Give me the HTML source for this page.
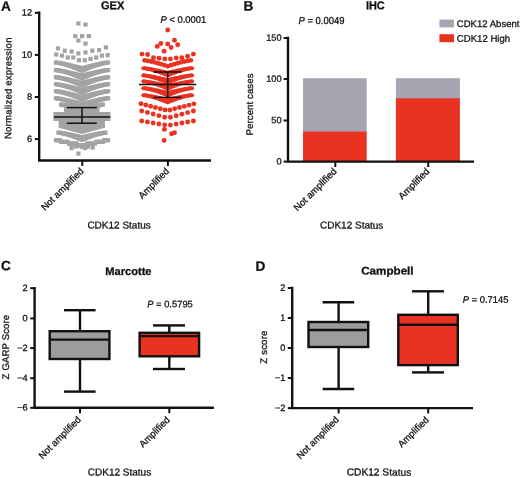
<!DOCTYPE html>
<html lang="en"><head><meta charset="utf-8"><title>CDK12 Status figure</title>
<style>
html,body{margin:0;padding:0;background:#fff;}
body{width:520px;height:477px;overflow:hidden;}
svg{display:block;font-family:"Liberation Sans",sans-serif;}
text{fill:#111;stroke:#111;stroke-width:0.28px;}
</style></head><body>
<svg width="520" height="477" viewBox="0 0 520 477">
<rect width="520" height="477" fill="#fff"/>
<g id="panelA">
<text x="1" y="10.8" font-size="13.6" font-weight="bold" transform="rotate(0.04 1 10.8)">A</text>
<text x="112.6" y="9.2" font-size="11.4" text-anchor="middle" font-weight="bold" transform="rotate(0.04 112.6 9.2)" textLength="23.4" lengthAdjust="spacingAndGlyphs">GEX</text>
<text x="160.6" y="22.8" font-size="9.4" transform="rotate(0.04 160.6 22.8)"><tspan font-style="italic">P</tspan> &lt; 0.0001</text>
<text x="11.4" y="88.3" font-size="9.5" text-anchor="middle" transform="rotate(-89.96 11.4 88.3)" textLength="101.5">Normalized expression</text>
<g fill="#a3a3a3">
<path d="M64 106.6H99.5V112H110.4V121H105V127.7L82 134 58.6 127.7V121H53.4V112H64Z"/>
<rect x="76.3" y="21.3" width="4.2" height="4.2"/>
<rect x="83.4" y="22.4" width="4.2" height="4.2"/>
<rect x="73.1" y="34" width="4.2" height="4.2"/>
<rect x="80" y="34" width="4.2" height="4.2"/>
<rect x="86.8" y="34" width="4.2" height="4.2"/>
<rect x="76.3" y="38.5" width="4.2" height="4.2"/>
<rect x="83.4" y="41.5" width="4.2" height="4.2"/>
<rect x="55.9" y="46.3" width="4.2" height="4.2"/>
<rect x="62.7" y="48.6" width="4.2" height="4.2"/>
<rect x="69.5" y="49.4" width="4.2" height="4.2"/>
<rect x="76.3" y="51.3" width="4.2" height="4.2"/>
<rect x="83.4" y="50.4" width="4.2" height="4.2"/>
<rect x="90.2" y="48.6" width="4.2" height="4.2"/>
<rect x="97" y="48" width="4.2" height="4.2"/>
<rect x="103.8" y="45.3" width="4.2" height="4.2"/>
<rect x="54.1" y="52.4" width="4.2" height="4.2"/>
<rect x="59.9" y="53.5" width="4.2" height="4.2"/>
<rect x="65.7" y="55.4" width="4.2" height="4.2"/>
<rect x="71.2" y="55.4" width="4.2" height="4.2"/>
<rect x="76.9" y="58.1" width="4.2" height="4.2"/>
<rect x="82.7" y="58.1" width="4.2" height="4.2"/>
<rect x="88.4" y="56.8" width="4.2" height="4.2"/>
<rect x="94.1" y="55.4" width="4.2" height="4.2"/>
<rect x="99.9" y="53.5" width="4.2" height="4.2"/>
<rect x="105.6" y="53.1" width="4.2" height="4.2"/>
<rect x="53.9" y="138.1" width="4.2" height="4.2"/>
<rect x="55.2" y="138.1" width="4.2" height="4.2"/>
<rect x="56.5" y="138.1" width="4.2" height="4.2"/>
<rect x="57.8" y="138.1" width="4.2" height="4.2"/>
<rect x="59.1" y="139.8" width="4.2" height="4.2"/>
<rect x="60.4" y="139.8" width="4.2" height="4.2"/>
<rect x="61.7" y="139.8" width="4.2" height="4.2"/>
<rect x="63" y="139.8" width="4.2" height="4.2"/>
<rect x="64.3" y="139.8" width="4.2" height="4.2"/>
<rect x="65.6" y="139.8" width="4.2" height="4.2"/>
<rect x="66.9" y="141.5" width="4.2" height="4.2"/>
<rect x="68.2" y="141.5" width="4.2" height="4.2"/>
<rect x="69.5" y="141.5" width="4.2" height="4.2"/>
<rect x="70.8" y="141.5" width="4.2" height="4.2"/>
<rect x="72.1" y="141.5" width="4.2" height="4.2"/>
<rect x="73.4" y="141.5" width="4.2" height="4.2"/>
<rect x="74.7" y="141.5" width="4.2" height="4.2"/>
<rect x="76" y="143.2" width="4.2" height="4.2"/>
<rect x="77.3" y="143.2" width="4.2" height="4.2"/>
<rect x="78.6" y="143.2" width="4.2" height="4.2"/>
<rect x="79.9" y="143.2" width="4.2" height="4.2"/>
<rect x="81.2" y="143.2" width="4.2" height="4.2"/>
<rect x="82.5" y="143.2" width="4.2" height="4.2"/>
<rect x="83.8" y="143.2" width="4.2" height="4.2"/>
<rect x="85.1" y="141.5" width="4.2" height="4.2"/>
<rect x="86.4" y="141.5" width="4.2" height="4.2"/>
<rect x="87.7" y="141.5" width="4.2" height="4.2"/>
<rect x="89" y="141.5" width="4.2" height="4.2"/>
<rect x="90.3" y="141.5" width="4.2" height="4.2"/>
<rect x="91.6" y="141.5" width="4.2" height="4.2"/>
<rect x="92.9" y="141.5" width="4.2" height="4.2"/>
<rect x="94.2" y="139.8" width="4.2" height="4.2"/>
<rect x="95.5" y="139.8" width="4.2" height="4.2"/>
<rect x="96.8" y="139.8" width="4.2" height="4.2"/>
<rect x="98.1" y="139.8" width="4.2" height="4.2"/>
<rect x="99.4" y="139.8" width="4.2" height="4.2"/>
<rect x="100.7" y="139.8" width="4.2" height="4.2"/>
<rect x="102" y="138.1" width="4.2" height="4.2"/>
<rect x="103.3" y="138.1" width="4.2" height="4.2"/>
<rect x="104.6" y="138.1" width="4.2" height="4.2"/>
<rect x="105.9" y="138.1" width="4.2" height="4.2"/>
<rect x="69.5" y="146" width="4.2" height="4.2"/>
<rect x="83.1" y="146" width="4.2" height="4.2"/>
<rect x="90.6" y="145.4" width="4.2" height="4.2"/>
<rect x="76.3" y="151.5" width="4.2" height="4.2"/>
<rect x="73.9" y="144.4" width="4.2" height="4.2"/>
<rect x="85.9" y="144.4" width="4.2" height="4.2"/>
<rect x="79.9" y="144.9" width="4.2" height="4.2"/>
<rect x="53.8" y="60.47" width="4.4" height="4.1"/>
<rect x="55.1" y="60.62" width="4.4" height="4.1"/>
<rect x="56.4" y="60.82" width="4.4" height="4.11"/>
<rect x="57.7" y="61.04" width="4.4" height="4.12"/>
<rect x="59" y="61.29" width="4.4" height="4.14"/>
<rect x="60.3" y="61.56" width="4.4" height="4.17"/>
<rect x="61.6" y="61.84" width="4.4" height="4.21"/>
<rect x="62.9" y="62.13" width="4.4" height="4.27"/>
<rect x="64.2" y="62.43" width="4.4" height="4.33"/>
<rect x="65.5" y="62.73" width="4.4" height="4.42"/>
<rect x="66.8" y="63.05" width="4.4" height="4.51"/>
<rect x="68.1" y="63.36" width="4.4" height="4.62"/>
<rect x="69.4" y="63.68" width="4.4" height="4.75"/>
<rect x="70.7" y="64.01" width="4.4" height="4.9"/>
<rect x="72" y="64.33" width="4.4" height="5.07"/>
<rect x="73.3" y="64.65" width="4.4" height="5.25"/>
<rect x="74.6" y="64.98" width="4.4" height="5.46"/>
<rect x="75.9" y="65.3" width="4.4" height="5.68"/>
<rect x="77.2" y="65.62" width="4.4" height="5.93"/>
<rect x="78.5" y="65.94" width="4.4" height="6.2"/>
<rect x="79.8" y="66.25" width="4.4" height="6.5"/>
<rect x="81.1" y="65.94" width="4.4" height="6.2"/>
<rect x="82.4" y="65.62" width="4.4" height="5.93"/>
<rect x="83.7" y="65.3" width="4.4" height="5.68"/>
<rect x="85" y="64.98" width="4.4" height="5.46"/>
<rect x="86.3" y="64.65" width="4.4" height="5.25"/>
<rect x="87.6" y="64.33" width="4.4" height="5.07"/>
<rect x="88.9" y="64.01" width="4.4" height="4.9"/>
<rect x="90.2" y="63.68" width="4.4" height="4.75"/>
<rect x="91.5" y="63.36" width="4.4" height="4.62"/>
<rect x="92.8" y="63.05" width="4.4" height="4.51"/>
<rect x="94.1" y="62.73" width="4.4" height="4.42"/>
<rect x="95.4" y="62.43" width="4.4" height="4.33"/>
<rect x="96.7" y="62.13" width="4.4" height="4.27"/>
<rect x="98" y="61.84" width="4.4" height="4.21"/>
<rect x="99.3" y="61.56" width="4.4" height="4.17"/>
<rect x="100.6" y="61.29" width="4.4" height="4.14"/>
<rect x="101.9" y="61.04" width="4.4" height="4.12"/>
<rect x="103.2" y="60.82" width="4.4" height="4.11"/>
<rect x="104.5" y="60.62" width="4.4" height="4.1"/>
<rect x="105.8" y="60.47" width="4.4" height="4.1"/>
<rect x="53.8" y="67.97" width="4.4" height="4.1"/>
<rect x="55.1" y="68.12" width="4.4" height="4.1"/>
<rect x="56.4" y="68.32" width="4.4" height="4.11"/>
<rect x="57.7" y="68.54" width="4.4" height="4.12"/>
<rect x="59" y="68.79" width="4.4" height="4.14"/>
<rect x="60.3" y="69.06" width="4.4" height="4.17"/>
<rect x="61.6" y="69.34" width="4.4" height="4.21"/>
<rect x="62.9" y="69.63" width="4.4" height="4.27"/>
<rect x="64.2" y="69.93" width="4.4" height="4.33"/>
<rect x="65.5" y="70.23" width="4.4" height="4.42"/>
<rect x="66.8" y="70.55" width="4.4" height="4.51"/>
<rect x="68.1" y="70.86" width="4.4" height="4.62"/>
<rect x="69.4" y="71.18" width="4.4" height="4.75"/>
<rect x="70.7" y="71.51" width="4.4" height="4.9"/>
<rect x="72" y="71.83" width="4.4" height="5.07"/>
<rect x="73.3" y="72.15" width="4.4" height="5.25"/>
<rect x="74.6" y="72.48" width="4.4" height="5.46"/>
<rect x="75.9" y="72.8" width="4.4" height="5.68"/>
<rect x="77.2" y="73.12" width="4.4" height="5.93"/>
<rect x="78.5" y="73.44" width="4.4" height="6.2"/>
<rect x="79.8" y="73.75" width="4.4" height="6.5"/>
<rect x="81.1" y="73.44" width="4.4" height="6.2"/>
<rect x="82.4" y="73.12" width="4.4" height="5.93"/>
<rect x="83.7" y="72.8" width="4.4" height="5.68"/>
<rect x="85" y="72.48" width="4.4" height="5.46"/>
<rect x="86.3" y="72.15" width="4.4" height="5.25"/>
<rect x="87.6" y="71.83" width="4.4" height="5.07"/>
<rect x="88.9" y="71.51" width="4.4" height="4.9"/>
<rect x="90.2" y="71.18" width="4.4" height="4.75"/>
<rect x="91.5" y="70.86" width="4.4" height="4.62"/>
<rect x="92.8" y="70.55" width="4.4" height="4.51"/>
<rect x="94.1" y="70.23" width="4.4" height="4.42"/>
<rect x="95.4" y="69.93" width="4.4" height="4.33"/>
<rect x="96.7" y="69.63" width="4.4" height="4.27"/>
<rect x="98" y="69.34" width="4.4" height="4.21"/>
<rect x="99.3" y="69.06" width="4.4" height="4.17"/>
<rect x="100.6" y="68.79" width="4.4" height="4.14"/>
<rect x="101.9" y="68.54" width="4.4" height="4.12"/>
<rect x="103.2" y="68.32" width="4.4" height="4.11"/>
<rect x="104.5" y="68.12" width="4.4" height="4.1"/>
<rect x="105.8" y="67.97" width="4.4" height="4.1"/>
<rect x="53.8" y="75.17" width="4.4" height="4.1"/>
<rect x="55.1" y="75.32" width="4.4" height="4.1"/>
<rect x="56.4" y="75.52" width="4.4" height="4.11"/>
<rect x="57.7" y="75.74" width="4.4" height="4.12"/>
<rect x="59" y="75.99" width="4.4" height="4.14"/>
<rect x="60.3" y="76.26" width="4.4" height="4.17"/>
<rect x="61.6" y="76.54" width="4.4" height="4.21"/>
<rect x="62.9" y="76.83" width="4.4" height="4.27"/>
<rect x="64.2" y="77.13" width="4.4" height="4.33"/>
<rect x="65.5" y="77.43" width="4.4" height="4.42"/>
<rect x="66.8" y="77.75" width="4.4" height="4.51"/>
<rect x="68.1" y="78.06" width="4.4" height="4.62"/>
<rect x="69.4" y="78.38" width="4.4" height="4.75"/>
<rect x="70.7" y="78.71" width="4.4" height="4.9"/>
<rect x="72" y="79.03" width="4.4" height="5.07"/>
<rect x="73.3" y="79.35" width="4.4" height="5.25"/>
<rect x="74.6" y="79.68" width="4.4" height="5.46"/>
<rect x="75.9" y="80" width="4.4" height="5.68"/>
<rect x="77.2" y="80.32" width="4.4" height="5.93"/>
<rect x="78.5" y="80.64" width="4.4" height="6.2"/>
<rect x="79.8" y="80.95" width="4.4" height="6.5"/>
<rect x="81.1" y="80.64" width="4.4" height="6.2"/>
<rect x="82.4" y="80.32" width="4.4" height="5.93"/>
<rect x="83.7" y="80" width="4.4" height="5.68"/>
<rect x="85" y="79.68" width="4.4" height="5.46"/>
<rect x="86.3" y="79.35" width="4.4" height="5.25"/>
<rect x="87.6" y="79.03" width="4.4" height="5.07"/>
<rect x="88.9" y="78.71" width="4.4" height="4.9"/>
<rect x="90.2" y="78.38" width="4.4" height="4.75"/>
<rect x="91.5" y="78.06" width="4.4" height="4.62"/>
<rect x="92.8" y="77.75" width="4.4" height="4.51"/>
<rect x="94.1" y="77.43" width="4.4" height="4.42"/>
<rect x="95.4" y="77.13" width="4.4" height="4.33"/>
<rect x="96.7" y="76.83" width="4.4" height="4.27"/>
<rect x="98" y="76.54" width="4.4" height="4.21"/>
<rect x="99.3" y="76.26" width="4.4" height="4.17"/>
<rect x="100.6" y="75.99" width="4.4" height="4.14"/>
<rect x="101.9" y="75.74" width="4.4" height="4.12"/>
<rect x="103.2" y="75.52" width="4.4" height="4.11"/>
<rect x="104.5" y="75.32" width="4.4" height="4.1"/>
<rect x="105.8" y="75.17" width="4.4" height="4.1"/>
<rect x="53.8" y="82.17" width="4.4" height="4.1"/>
<rect x="55.1" y="82.32" width="4.4" height="4.1"/>
<rect x="56.4" y="82.52" width="4.4" height="4.11"/>
<rect x="57.7" y="82.74" width="4.4" height="4.12"/>
<rect x="59" y="82.99" width="4.4" height="4.14"/>
<rect x="60.3" y="83.26" width="4.4" height="4.17"/>
<rect x="61.6" y="83.54" width="4.4" height="4.21"/>
<rect x="62.9" y="83.83" width="4.4" height="4.27"/>
<rect x="64.2" y="84.13" width="4.4" height="4.33"/>
<rect x="65.5" y="84.43" width="4.4" height="4.42"/>
<rect x="66.8" y="84.75" width="4.4" height="4.51"/>
<rect x="68.1" y="85.06" width="4.4" height="4.62"/>
<rect x="69.4" y="85.38" width="4.4" height="4.75"/>
<rect x="70.7" y="85.71" width="4.4" height="4.9"/>
<rect x="72" y="86.03" width="4.4" height="5.07"/>
<rect x="73.3" y="86.35" width="4.4" height="5.25"/>
<rect x="74.6" y="86.68" width="4.4" height="5.46"/>
<rect x="75.9" y="87" width="4.4" height="5.68"/>
<rect x="77.2" y="87.32" width="4.4" height="5.93"/>
<rect x="78.5" y="87.64" width="4.4" height="6.2"/>
<rect x="79.8" y="87.95" width="4.4" height="6.5"/>
<rect x="81.1" y="87.64" width="4.4" height="6.2"/>
<rect x="82.4" y="87.32" width="4.4" height="5.93"/>
<rect x="83.7" y="87" width="4.4" height="5.68"/>
<rect x="85" y="86.68" width="4.4" height="5.46"/>
<rect x="86.3" y="86.35" width="4.4" height="5.25"/>
<rect x="87.6" y="86.03" width="4.4" height="5.07"/>
<rect x="88.9" y="85.71" width="4.4" height="4.9"/>
<rect x="90.2" y="85.38" width="4.4" height="4.75"/>
<rect x="91.5" y="85.06" width="4.4" height="4.62"/>
<rect x="92.8" y="84.75" width="4.4" height="4.51"/>
<rect x="94.1" y="84.43" width="4.4" height="4.42"/>
<rect x="95.4" y="84.13" width="4.4" height="4.33"/>
<rect x="96.7" y="83.83" width="4.4" height="4.27"/>
<rect x="98" y="83.54" width="4.4" height="4.21"/>
<rect x="99.3" y="83.26" width="4.4" height="4.17"/>
<rect x="100.6" y="82.99" width="4.4" height="4.14"/>
<rect x="101.9" y="82.74" width="4.4" height="4.12"/>
<rect x="103.2" y="82.52" width="4.4" height="4.11"/>
<rect x="104.5" y="82.32" width="4.4" height="4.1"/>
<rect x="105.8" y="82.17" width="4.4" height="4.1"/>
<rect x="53.8" y="89.17" width="4.4" height="4.1"/>
<rect x="55.1" y="89.32" width="4.4" height="4.1"/>
<rect x="56.4" y="89.52" width="4.4" height="4.11"/>
<rect x="57.7" y="89.74" width="4.4" height="4.12"/>
<rect x="59" y="89.99" width="4.4" height="4.14"/>
<rect x="60.3" y="90.26" width="4.4" height="4.17"/>
<rect x="61.6" y="90.54" width="4.4" height="4.21"/>
<rect x="62.9" y="90.83" width="4.4" height="4.27"/>
<rect x="64.2" y="91.13" width="4.4" height="4.33"/>
<rect x="65.5" y="91.43" width="4.4" height="4.42"/>
<rect x="66.8" y="91.75" width="4.4" height="4.51"/>
<rect x="68.1" y="92.06" width="4.4" height="4.62"/>
<rect x="69.4" y="92.38" width="4.4" height="4.75"/>
<rect x="70.7" y="92.71" width="4.4" height="4.9"/>
<rect x="72" y="93.03" width="4.4" height="5.07"/>
<rect x="73.3" y="93.35" width="4.4" height="5.25"/>
<rect x="74.6" y="93.68" width="4.4" height="5.46"/>
<rect x="75.9" y="94" width="4.4" height="5.68"/>
<rect x="77.2" y="94.32" width="4.4" height="5.93"/>
<rect x="78.5" y="94.64" width="4.4" height="6.2"/>
<rect x="79.8" y="94.95" width="4.4" height="6.5"/>
<rect x="81.1" y="94.64" width="4.4" height="6.2"/>
<rect x="82.4" y="94.32" width="4.4" height="5.93"/>
<rect x="83.7" y="94" width="4.4" height="5.68"/>
<rect x="85" y="93.68" width="4.4" height="5.46"/>
<rect x="86.3" y="93.35" width="4.4" height="5.25"/>
<rect x="87.6" y="93.03" width="4.4" height="5.07"/>
<rect x="88.9" y="92.71" width="4.4" height="4.9"/>
<rect x="90.2" y="92.38" width="4.4" height="4.75"/>
<rect x="91.5" y="92.06" width="4.4" height="4.62"/>
<rect x="92.8" y="91.75" width="4.4" height="4.51"/>
<rect x="94.1" y="91.43" width="4.4" height="4.42"/>
<rect x="95.4" y="91.13" width="4.4" height="4.33"/>
<rect x="96.7" y="90.83" width="4.4" height="4.27"/>
<rect x="98" y="90.54" width="4.4" height="4.21"/>
<rect x="99.3" y="90.26" width="4.4" height="4.17"/>
<rect x="100.6" y="89.99" width="4.4" height="4.14"/>
<rect x="101.9" y="89.74" width="4.4" height="4.12"/>
<rect x="103.2" y="89.52" width="4.4" height="4.11"/>
<rect x="104.5" y="89.32" width="4.4" height="4.1"/>
<rect x="105.8" y="89.17" width="4.4" height="4.1"/>
<rect x="53.8" y="96.17" width="4.4" height="4.1"/>
<rect x="55.1" y="96.32" width="4.4" height="4.1"/>
<rect x="56.4" y="96.52" width="4.4" height="4.11"/>
<rect x="57.7" y="96.74" width="4.4" height="4.12"/>
<rect x="59" y="96.99" width="4.4" height="4.14"/>
<rect x="60.3" y="97.26" width="4.4" height="4.17"/>
<rect x="61.6" y="97.54" width="4.4" height="4.21"/>
<rect x="62.9" y="97.83" width="4.4" height="4.27"/>
<rect x="64.2" y="98.13" width="4.4" height="4.33"/>
<rect x="65.5" y="98.43" width="4.4" height="4.42"/>
<rect x="66.8" y="98.75" width="4.4" height="4.51"/>
<rect x="68.1" y="99.06" width="4.4" height="4.62"/>
<rect x="69.4" y="99.38" width="4.4" height="4.75"/>
<rect x="70.7" y="99.71" width="4.4" height="4.9"/>
<rect x="72" y="100.03" width="4.4" height="5.07"/>
<rect x="73.3" y="100.35" width="4.4" height="5.25"/>
<rect x="74.6" y="100.68" width="4.4" height="5.46"/>
<rect x="75.9" y="101" width="4.4" height="5.68"/>
<rect x="77.2" y="101.32" width="4.4" height="5.93"/>
<rect x="78.5" y="101.64" width="4.4" height="6.2"/>
<rect x="79.8" y="101.95" width="4.4" height="6.5"/>
<rect x="81.1" y="101.64" width="4.4" height="6.2"/>
<rect x="82.4" y="101.32" width="4.4" height="5.93"/>
<rect x="83.7" y="101" width="4.4" height="5.68"/>
<rect x="85" y="100.68" width="4.4" height="5.46"/>
<rect x="86.3" y="100.35" width="4.4" height="5.25"/>
<rect x="87.6" y="100.03" width="4.4" height="5.07"/>
<rect x="88.9" y="99.71" width="4.4" height="4.9"/>
<rect x="90.2" y="99.38" width="4.4" height="4.75"/>
<rect x="91.5" y="99.06" width="4.4" height="4.62"/>
<rect x="92.8" y="98.75" width="4.4" height="4.51"/>
<rect x="94.1" y="98.43" width="4.4" height="4.42"/>
<rect x="95.4" y="98.13" width="4.4" height="4.33"/>
<rect x="96.7" y="97.83" width="4.4" height="4.27"/>
<rect x="98" y="97.54" width="4.4" height="4.21"/>
<rect x="99.3" y="97.26" width="4.4" height="4.17"/>
<rect x="100.6" y="96.99" width="4.4" height="4.14"/>
<rect x="101.9" y="96.74" width="4.4" height="4.12"/>
<rect x="103.2" y="96.52" width="4.4" height="4.11"/>
<rect x="104.5" y="96.32" width="4.4" height="4.1"/>
<rect x="105.8" y="96.17" width="4.4" height="4.1"/>
<rect x="59" y="102.56" width="4.4" height="4.14"/>
<rect x="60.3" y="102.71" width="4.4" height="4.17"/>
<rect x="61.6" y="102.9" width="4.4" height="4.21"/>
<rect x="62.9" y="103.12" width="4.4" height="4.27"/>
<rect x="64.2" y="103.36" width="4.4" height="4.33"/>
<rect x="65.5" y="103.62" width="4.4" height="4.42"/>
<rect x="66.8" y="103.89" width="4.4" height="4.51"/>
<rect x="68.1" y="104.16" width="4.4" height="4.62"/>
<rect x="69.4" y="104.45" width="4.4" height="4.75"/>
<rect x="70.7" y="104.74" width="4.4" height="4.9"/>
<rect x="72" y="105.04" width="4.4" height="5.07"/>
<rect x="73.3" y="105.34" width="4.4" height="5.25"/>
<rect x="74.6" y="105.64" width="4.4" height="5.46"/>
<rect x="75.9" y="105.94" width="4.4" height="5.68"/>
<rect x="77.2" y="106.25" width="4.4" height="5.93"/>
<rect x="78.5" y="106.55" width="4.4" height="6.2"/>
<rect x="79.8" y="106.85" width="4.4" height="6.5"/>
<rect x="81.1" y="106.55" width="4.4" height="6.2"/>
<rect x="82.4" y="106.25" width="4.4" height="5.93"/>
<rect x="83.7" y="105.94" width="4.4" height="5.68"/>
<rect x="85" y="105.64" width="4.4" height="5.46"/>
<rect x="86.3" y="105.34" width="4.4" height="5.25"/>
<rect x="87.6" y="105.04" width="4.4" height="5.07"/>
<rect x="88.9" y="104.74" width="4.4" height="4.9"/>
<rect x="90.2" y="104.45" width="4.4" height="4.75"/>
<rect x="91.5" y="104.16" width="4.4" height="4.62"/>
<rect x="92.8" y="103.89" width="4.4" height="4.51"/>
<rect x="94.1" y="103.62" width="4.4" height="4.42"/>
<rect x="95.4" y="103.36" width="4.4" height="4.33"/>
<rect x="96.7" y="103.12" width="4.4" height="4.27"/>
<rect x="98" y="102.9" width="4.4" height="4.21"/>
<rect x="99.3" y="102.71" width="4.4" height="4.17"/>
<rect x="100.6" y="102.56" width="4.4" height="4.14"/>
<rect x="56.4" y="130.59" width="4.4" height="4.11"/>
<rect x="57.7" y="130.73" width="4.4" height="4.12"/>
<rect x="59" y="130.92" width="4.4" height="4.14"/>
<rect x="60.3" y="131.14" width="4.4" height="4.17"/>
<rect x="61.6" y="131.37" width="4.4" height="4.21"/>
<rect x="62.9" y="131.62" width="4.4" height="4.27"/>
<rect x="64.2" y="131.89" width="4.4" height="4.33"/>
<rect x="65.5" y="132.16" width="4.4" height="4.42"/>
<rect x="66.8" y="132.44" width="4.4" height="4.51"/>
<rect x="68.1" y="132.72" width="4.4" height="4.62"/>
<rect x="69.4" y="133.01" width="4.4" height="4.75"/>
<rect x="70.7" y="133.3" width="4.4" height="4.9"/>
<rect x="72" y="133.6" width="4.4" height="5.07"/>
<rect x="73.3" y="133.89" width="4.4" height="5.25"/>
<rect x="74.6" y="134.19" width="4.4" height="5.46"/>
<rect x="75.9" y="134.48" width="4.4" height="5.68"/>
<rect x="77.2" y="134.77" width="4.4" height="5.93"/>
<rect x="78.5" y="135.06" width="4.4" height="6.2"/>
<rect x="79.8" y="135.35" width="4.4" height="6.5"/>
<rect x="81.1" y="135.06" width="4.4" height="6.2"/>
<rect x="82.4" y="134.77" width="4.4" height="5.93"/>
<rect x="83.7" y="134.48" width="4.4" height="5.68"/>
<rect x="85" y="134.19" width="4.4" height="5.46"/>
<rect x="86.3" y="133.89" width="4.4" height="5.25"/>
<rect x="87.6" y="133.6" width="4.4" height="5.07"/>
<rect x="88.9" y="133.3" width="4.4" height="4.9"/>
<rect x="90.2" y="133.01" width="4.4" height="4.75"/>
<rect x="91.5" y="132.72" width="4.4" height="4.62"/>
<rect x="92.8" y="132.44" width="4.4" height="4.51"/>
<rect x="94.1" y="132.16" width="4.4" height="4.42"/>
<rect x="95.4" y="131.89" width="4.4" height="4.33"/>
<rect x="96.7" y="131.62" width="4.4" height="4.27"/>
<rect x="98" y="131.37" width="4.4" height="4.21"/>
<rect x="99.3" y="131.14" width="4.4" height="4.17"/>
<rect x="100.6" y="130.92" width="4.4" height="4.14"/>
<rect x="101.9" y="130.73" width="4.4" height="4.12"/>
<rect x="103.2" y="130.59" width="4.4" height="4.11"/>
</g>
<line x1="53.9" y1="116.9" x2="110.4" y2="116.9" stroke="#111" stroke-width="1.5" stroke-linecap="butt"/>
<line x1="66.8" y1="107.6" x2="96.8" y2="107.6" stroke="#111" stroke-width="1.5" stroke-linecap="butt"/>
<line x1="66.8" y1="123.2" x2="96.8" y2="123.2" stroke="#111" stroke-width="1.5" stroke-linecap="butt"/>
<line x1="82" y1="107.6" x2="82" y2="123.2" stroke="#111" stroke-width="1.5" stroke-linecap="butt"/>
<g fill="#ea3222">
<circle cx="167.7" cy="30" r="2.45"/>
<circle cx="174.5" cy="40.3" r="2.45"/>
<circle cx="160.8" cy="43.5" r="2.45"/>
<circle cx="167.7" cy="43.9" r="2.45"/>
<circle cx="177.7" cy="44.7" r="2.45"/>
<circle cx="157.2" cy="46.4" r="2.45"/>
<circle cx="171.1" cy="47.5" r="2.45"/>
<circle cx="164.1" cy="51.3" r="2.45"/>
<circle cx="142" cy="54.1" r="2.45"/>
<circle cx="147.6" cy="54.5" r="2.45"/>
<circle cx="153.5" cy="57.7" r="2.45"/>
<circle cx="159.1" cy="58.2" r="2.45"/>
<circle cx="164.8" cy="58.9" r="2.45"/>
<circle cx="170.4" cy="58.9" r="2.45"/>
<circle cx="176.3" cy="57.9" r="2.45"/>
<circle cx="181.8" cy="57.7" r="2.45"/>
<circle cx="187.6" cy="56.3" r="2.45"/>
<circle cx="193.4" cy="54.1" r="2.45"/>
<circle cx="144.6" cy="60.36" r="2.45"/>
<circle cx="147.9" cy="60.89" r="2.45"/>
<circle cx="151.2" cy="61.57" r="2.45"/>
<circle cx="154.5" cy="62.35" r="2.45"/>
<circle cx="157.8" cy="63.22" r="2.45"/>
<circle cx="161.1" cy="64.15" r="2.45"/>
<circle cx="164.4" cy="65.15" r="2.45"/>
<circle cx="167.7" cy="66.2" r="2.45"/>
<circle cx="171" cy="65.15" r="2.45"/>
<circle cx="174.3" cy="64.15" r="2.45"/>
<circle cx="177.6" cy="63.22" r="2.45"/>
<circle cx="180.9" cy="62.35" r="2.45"/>
<circle cx="184.2" cy="61.57" r="2.45"/>
<circle cx="187.5" cy="60.89" r="2.45"/>
<circle cx="190.8" cy="60.36" r="2.45"/>
<circle cx="141" cy="103.74" r="2.45"/>
<circle cx="145.81" cy="104.97" r="2.45"/>
<circle cx="150.62" cy="106.21" r="2.45"/>
<circle cx="155.43" cy="107.44" r="2.45"/>
<circle cx="160.24" cy="108.68" r="2.45"/>
<circle cx="165.05" cy="109.92" r="2.45"/>
<circle cx="169.85" cy="110.05" r="2.45"/>
<circle cx="174.66" cy="108.81" r="2.45"/>
<circle cx="179.47" cy="107.57" r="2.45"/>
<circle cx="184.28" cy="106.34" r="2.45"/>
<circle cx="189.09" cy="105.1" r="2.45"/>
<circle cx="193.9" cy="103.86" r="2.45"/>
<circle cx="141.7" cy="110.96" r="2.45"/>
<circle cx="147.44" cy="112.51" r="2.45"/>
<circle cx="153.19" cy="114.07" r="2.45"/>
<circle cx="158.93" cy="115.63" r="2.45"/>
<circle cx="164.68" cy="117.18" r="2.45"/>
<circle cx="170.42" cy="117.26" r="2.45"/>
<circle cx="176.17" cy="115.71" r="2.45"/>
<circle cx="181.91" cy="114.15" r="2.45"/>
<circle cx="187.66" cy="112.6" r="2.45"/>
<circle cx="193.4" cy="111.04" r="2.45"/>
<circle cx="141.7" cy="120.97" r="2.45"/>
<circle cx="147.44" cy="122" r="2.45"/>
<circle cx="153.19" cy="123.02" r="2.45"/>
<circle cx="158.93" cy="124.04" r="2.45"/>
<circle cx="164.68" cy="125.06" r="2.45"/>
<circle cx="170.42" cy="125.12" r="2.45"/>
<circle cx="176.17" cy="124.09" r="2.45"/>
<circle cx="181.91" cy="123.07" r="2.45"/>
<circle cx="187.66" cy="122.05" r="2.45"/>
<circle cx="193.4" cy="121.03" r="2.45"/>
<circle cx="164.4" cy="129.4" r="2.45"/>
<circle cx="171.6" cy="133.8" r="2.45"/>
<circle cx="174.5" cy="132.7" r="2.45"/>
<circle cx="164.1" cy="140.4" r="2.45"/>
<ellipse cx="143.7" cy="68.21" rx="2.4" ry="2.05"/>
<ellipse cx="145.2" cy="68.36" rx="2.4" ry="2.05"/>
<ellipse cx="146.7" cy="68.58" rx="2.4" ry="2.06"/>
<ellipse cx="148.2" cy="68.83" rx="2.4" ry="2.08"/>
<ellipse cx="149.7" cy="69.12" rx="2.4" ry="2.11"/>
<ellipse cx="151.2" cy="69.44" rx="2.4" ry="2.15"/>
<ellipse cx="152.7" cy="69.77" rx="2.4" ry="2.19"/>
<ellipse cx="154.2" cy="70.13" rx="2.4" ry="2.25"/>
<ellipse cx="155.7" cy="70.5" rx="2.4" ry="2.32"/>
<ellipse cx="157.2" cy="70.89" rx="2.4" ry="2.39"/>
<ellipse cx="158.7" cy="71.3" rx="2.4" ry="2.48"/>
<ellipse cx="160.2" cy="71.72" rx="2.4" ry="2.58"/>
<ellipse cx="161.7" cy="72.15" rx="2.4" ry="2.69"/>
<ellipse cx="163.2" cy="72.59" rx="2.4" ry="2.81"/>
<ellipse cx="164.7" cy="73.05" rx="2.4" ry="2.95"/>
<ellipse cx="166.2" cy="73.52" rx="2.4" ry="3.09"/>
<ellipse cx="167.7" cy="74" rx="2.4" ry="3.25"/>
<ellipse cx="169.2" cy="73.52" rx="2.4" ry="3.09"/>
<ellipse cx="170.7" cy="73.05" rx="2.4" ry="2.95"/>
<ellipse cx="172.2" cy="72.59" rx="2.4" ry="2.81"/>
<ellipse cx="173.7" cy="72.15" rx="2.4" ry="2.69"/>
<ellipse cx="175.2" cy="71.72" rx="2.4" ry="2.58"/>
<ellipse cx="176.7" cy="71.3" rx="2.4" ry="2.48"/>
<ellipse cx="178.2" cy="70.89" rx="2.4" ry="2.39"/>
<ellipse cx="179.7" cy="70.5" rx="2.4" ry="2.32"/>
<ellipse cx="181.2" cy="70.13" rx="2.4" ry="2.25"/>
<ellipse cx="182.7" cy="69.77" rx="2.4" ry="2.19"/>
<ellipse cx="184.2" cy="69.44" rx="2.4" ry="2.15"/>
<ellipse cx="185.7" cy="69.12" rx="2.4" ry="2.11"/>
<ellipse cx="187.2" cy="68.83" rx="2.4" ry="2.08"/>
<ellipse cx="188.7" cy="68.58" rx="2.4" ry="2.06"/>
<ellipse cx="190.2" cy="68.36" rx="2.4" ry="2.05"/>
<ellipse cx="191.7" cy="68.21" rx="2.4" ry="2.05"/>
<ellipse cx="143.7" cy="75.41" rx="2.4" ry="2.05"/>
<ellipse cx="145.2" cy="75.56" rx="2.4" ry="2.05"/>
<ellipse cx="146.7" cy="75.78" rx="2.4" ry="2.06"/>
<ellipse cx="148.2" cy="76.03" rx="2.4" ry="2.08"/>
<ellipse cx="149.7" cy="76.32" rx="2.4" ry="2.11"/>
<ellipse cx="151.2" cy="76.64" rx="2.4" ry="2.15"/>
<ellipse cx="152.7" cy="76.97" rx="2.4" ry="2.19"/>
<ellipse cx="154.2" cy="77.33" rx="2.4" ry="2.25"/>
<ellipse cx="155.7" cy="77.7" rx="2.4" ry="2.32"/>
<ellipse cx="157.2" cy="78.09" rx="2.4" ry="2.39"/>
<ellipse cx="158.7" cy="78.5" rx="2.4" ry="2.48"/>
<ellipse cx="160.2" cy="78.92" rx="2.4" ry="2.58"/>
<ellipse cx="161.7" cy="79.35" rx="2.4" ry="2.69"/>
<ellipse cx="163.2" cy="79.79" rx="2.4" ry="2.81"/>
<ellipse cx="164.7" cy="80.25" rx="2.4" ry="2.95"/>
<ellipse cx="166.2" cy="80.72" rx="2.4" ry="3.09"/>
<ellipse cx="167.7" cy="81.2" rx="2.4" ry="3.25"/>
<ellipse cx="169.2" cy="80.72" rx="2.4" ry="3.09"/>
<ellipse cx="170.7" cy="80.25" rx="2.4" ry="2.95"/>
<ellipse cx="172.2" cy="79.79" rx="2.4" ry="2.81"/>
<ellipse cx="173.7" cy="79.35" rx="2.4" ry="2.69"/>
<ellipse cx="175.2" cy="78.92" rx="2.4" ry="2.58"/>
<ellipse cx="176.7" cy="78.5" rx="2.4" ry="2.48"/>
<ellipse cx="178.2" cy="78.09" rx="2.4" ry="2.39"/>
<ellipse cx="179.7" cy="77.7" rx="2.4" ry="2.32"/>
<ellipse cx="181.2" cy="77.33" rx="2.4" ry="2.25"/>
<ellipse cx="182.7" cy="76.97" rx="2.4" ry="2.19"/>
<ellipse cx="184.2" cy="76.64" rx="2.4" ry="2.15"/>
<ellipse cx="185.7" cy="76.32" rx="2.4" ry="2.11"/>
<ellipse cx="187.2" cy="76.03" rx="2.4" ry="2.08"/>
<ellipse cx="188.7" cy="75.78" rx="2.4" ry="2.06"/>
<ellipse cx="190.2" cy="75.56" rx="2.4" ry="2.05"/>
<ellipse cx="191.7" cy="75.41" rx="2.4" ry="2.05"/>
<ellipse cx="143.7" cy="81.41" rx="2.4" ry="2.05"/>
<ellipse cx="145.2" cy="81.56" rx="2.4" ry="2.05"/>
<ellipse cx="146.7" cy="81.78" rx="2.4" ry="2.06"/>
<ellipse cx="148.2" cy="82.03" rx="2.4" ry="2.08"/>
<ellipse cx="149.7" cy="82.32" rx="2.4" ry="2.11"/>
<ellipse cx="151.2" cy="82.64" rx="2.4" ry="2.15"/>
<ellipse cx="152.7" cy="82.97" rx="2.4" ry="2.19"/>
<ellipse cx="154.2" cy="83.33" rx="2.4" ry="2.25"/>
<ellipse cx="155.7" cy="83.7" rx="2.4" ry="2.32"/>
<ellipse cx="157.2" cy="84.09" rx="2.4" ry="2.39"/>
<ellipse cx="158.7" cy="84.5" rx="2.4" ry="2.48"/>
<ellipse cx="160.2" cy="84.92" rx="2.4" ry="2.58"/>
<ellipse cx="161.7" cy="85.35" rx="2.4" ry="2.69"/>
<ellipse cx="163.2" cy="85.79" rx="2.4" ry="2.81"/>
<ellipse cx="164.7" cy="86.25" rx="2.4" ry="2.95"/>
<ellipse cx="166.2" cy="86.72" rx="2.4" ry="3.09"/>
<ellipse cx="167.7" cy="87.2" rx="2.4" ry="3.25"/>
<ellipse cx="169.2" cy="86.72" rx="2.4" ry="3.09"/>
<ellipse cx="170.7" cy="86.25" rx="2.4" ry="2.95"/>
<ellipse cx="172.2" cy="85.79" rx="2.4" ry="2.81"/>
<ellipse cx="173.7" cy="85.35" rx="2.4" ry="2.69"/>
<ellipse cx="175.2" cy="84.92" rx="2.4" ry="2.58"/>
<ellipse cx="176.7" cy="84.5" rx="2.4" ry="2.48"/>
<ellipse cx="178.2" cy="84.09" rx="2.4" ry="2.39"/>
<ellipse cx="179.7" cy="83.7" rx="2.4" ry="2.32"/>
<ellipse cx="181.2" cy="83.33" rx="2.4" ry="2.25"/>
<ellipse cx="182.7" cy="82.97" rx="2.4" ry="2.19"/>
<ellipse cx="184.2" cy="82.64" rx="2.4" ry="2.15"/>
<ellipse cx="185.7" cy="82.32" rx="2.4" ry="2.11"/>
<ellipse cx="187.2" cy="82.03" rx="2.4" ry="2.08"/>
<ellipse cx="188.7" cy="81.78" rx="2.4" ry="2.06"/>
<ellipse cx="190.2" cy="81.56" rx="2.4" ry="2.05"/>
<ellipse cx="191.7" cy="81.41" rx="2.4" ry="2.05"/>
<ellipse cx="143.7" cy="88.21" rx="2.4" ry="2.05"/>
<ellipse cx="145.2" cy="88.36" rx="2.4" ry="2.05"/>
<ellipse cx="146.7" cy="88.58" rx="2.4" ry="2.06"/>
<ellipse cx="148.2" cy="88.83" rx="2.4" ry="2.08"/>
<ellipse cx="149.7" cy="89.12" rx="2.4" ry="2.11"/>
<ellipse cx="151.2" cy="89.44" rx="2.4" ry="2.15"/>
<ellipse cx="152.7" cy="89.77" rx="2.4" ry="2.19"/>
<ellipse cx="154.2" cy="90.13" rx="2.4" ry="2.25"/>
<ellipse cx="155.7" cy="90.5" rx="2.4" ry="2.32"/>
<ellipse cx="157.2" cy="90.89" rx="2.4" ry="2.39"/>
<ellipse cx="158.7" cy="91.3" rx="2.4" ry="2.48"/>
<ellipse cx="160.2" cy="91.72" rx="2.4" ry="2.58"/>
<ellipse cx="161.7" cy="92.15" rx="2.4" ry="2.69"/>
<ellipse cx="163.2" cy="92.59" rx="2.4" ry="2.81"/>
<ellipse cx="164.7" cy="93.05" rx="2.4" ry="2.95"/>
<ellipse cx="166.2" cy="93.52" rx="2.4" ry="3.09"/>
<ellipse cx="167.7" cy="94" rx="2.4" ry="3.25"/>
<ellipse cx="169.2" cy="93.52" rx="2.4" ry="3.09"/>
<ellipse cx="170.7" cy="93.05" rx="2.4" ry="2.95"/>
<ellipse cx="172.2" cy="92.59" rx="2.4" ry="2.81"/>
<ellipse cx="173.7" cy="92.15" rx="2.4" ry="2.69"/>
<ellipse cx="175.2" cy="91.72" rx="2.4" ry="2.58"/>
<ellipse cx="176.7" cy="91.3" rx="2.4" ry="2.48"/>
<ellipse cx="178.2" cy="90.89" rx="2.4" ry="2.39"/>
<ellipse cx="179.7" cy="90.5" rx="2.4" ry="2.32"/>
<ellipse cx="181.2" cy="90.13" rx="2.4" ry="2.25"/>
<ellipse cx="182.7" cy="89.77" rx="2.4" ry="2.19"/>
<ellipse cx="184.2" cy="89.44" rx="2.4" ry="2.15"/>
<ellipse cx="185.7" cy="89.12" rx="2.4" ry="2.11"/>
<ellipse cx="187.2" cy="88.83" rx="2.4" ry="2.08"/>
<ellipse cx="188.7" cy="88.58" rx="2.4" ry="2.06"/>
<ellipse cx="190.2" cy="88.36" rx="2.4" ry="2.05"/>
<ellipse cx="191.7" cy="88.21" rx="2.4" ry="2.05"/>
<ellipse cx="143.7" cy="95.21" rx="2.4" ry="2.05"/>
<ellipse cx="145.2" cy="95.36" rx="2.4" ry="2.05"/>
<ellipse cx="146.7" cy="95.58" rx="2.4" ry="2.06"/>
<ellipse cx="148.2" cy="95.83" rx="2.4" ry="2.08"/>
<ellipse cx="149.7" cy="96.12" rx="2.4" ry="2.11"/>
<ellipse cx="151.2" cy="96.44" rx="2.4" ry="2.15"/>
<ellipse cx="152.7" cy="96.77" rx="2.4" ry="2.19"/>
<ellipse cx="154.2" cy="97.13" rx="2.4" ry="2.25"/>
<ellipse cx="155.7" cy="97.5" rx="2.4" ry="2.32"/>
<ellipse cx="157.2" cy="97.89" rx="2.4" ry="2.39"/>
<ellipse cx="158.7" cy="98.3" rx="2.4" ry="2.48"/>
<ellipse cx="160.2" cy="98.72" rx="2.4" ry="2.58"/>
<ellipse cx="161.7" cy="99.15" rx="2.4" ry="2.69"/>
<ellipse cx="163.2" cy="99.59" rx="2.4" ry="2.81"/>
<ellipse cx="164.7" cy="100.05" rx="2.4" ry="2.95"/>
<ellipse cx="166.2" cy="100.52" rx="2.4" ry="3.09"/>
<ellipse cx="167.7" cy="101" rx="2.4" ry="3.25"/>
<ellipse cx="169.2" cy="100.52" rx="2.4" ry="3.09"/>
<ellipse cx="170.7" cy="100.05" rx="2.4" ry="2.95"/>
<ellipse cx="172.2" cy="99.59" rx="2.4" ry="2.81"/>
<ellipse cx="173.7" cy="99.15" rx="2.4" ry="2.69"/>
<ellipse cx="175.2" cy="98.72" rx="2.4" ry="2.58"/>
<ellipse cx="176.7" cy="98.3" rx="2.4" ry="2.48"/>
<ellipse cx="178.2" cy="97.89" rx="2.4" ry="2.39"/>
<ellipse cx="179.7" cy="97.5" rx="2.4" ry="2.32"/>
<ellipse cx="181.2" cy="97.13" rx="2.4" ry="2.25"/>
<ellipse cx="182.7" cy="96.77" rx="2.4" ry="2.19"/>
<ellipse cx="184.2" cy="96.44" rx="2.4" ry="2.15"/>
<ellipse cx="185.7" cy="96.12" rx="2.4" ry="2.11"/>
<ellipse cx="187.2" cy="95.83" rx="2.4" ry="2.08"/>
<ellipse cx="188.7" cy="95.58" rx="2.4" ry="2.06"/>
<ellipse cx="190.2" cy="95.36" rx="2.4" ry="2.05"/>
<ellipse cx="191.7" cy="95.21" rx="2.4" ry="2.05"/>
</g>
<line x1="139" y1="84.6" x2="196.3" y2="84.6" stroke="#111" stroke-width="1.5" stroke-linecap="butt"/>
<line x1="153.5" y1="72" x2="181.6" y2="72" stroke="#111" stroke-width="1.5" stroke-linecap="butt"/>
<line x1="153.5" y1="97.4" x2="181.6" y2="97.4" stroke="#111" stroke-width="1.5" stroke-linecap="butt"/>
<line x1="167.7" y1="72" x2="167.7" y2="97.4" stroke="#111" stroke-width="1.5" stroke-linecap="butt"/>
<path d="M39.2 11.6V160.5H211" fill="none" stroke="#111" stroke-width="2.4" stroke-linejoin="miter"/>
<line x1="34.8" y1="12.8" x2="39.2" y2="12.8" stroke="#111" stroke-width="2.0" stroke-linecap="butt"/>
<text x="32" y="15.61" font-size="9.2" text-anchor="end" transform="rotate(0.04 32 15.61)">12</text>
<line x1="34.8" y1="54.9" x2="39.2" y2="54.9" stroke="#111" stroke-width="2.0" stroke-linecap="butt"/>
<text x="32" y="57.71" font-size="9.2" text-anchor="end" transform="rotate(0.04 32 57.71)">10</text>
<line x1="34.8" y1="97" x2="39.2" y2="97" stroke="#111" stroke-width="2.0" stroke-linecap="butt"/>
<text x="32" y="99.81" font-size="9.2" text-anchor="end" transform="rotate(0.04 32 99.81)">8</text>
<line x1="34.8" y1="139.1" x2="39.2" y2="139.1" stroke="#111" stroke-width="2.0" stroke-linecap="butt"/>
<text x="32" y="141.91" font-size="9.2" text-anchor="end" transform="rotate(0.04 32 141.91)">6</text>
<line x1="82.3" y1="160.5" x2="82.3" y2="165.9" stroke="#111" stroke-width="2.0" stroke-linecap="butt"/>
<line x1="167.9" y1="160.5" x2="167.9" y2="165.9" stroke="#111" stroke-width="2.0" stroke-linecap="butt"/>
<text x="84.2" y="171.8" font-size="9.5" text-anchor="end" transform="rotate(-45 84.2 171.8)">Not amplified</text>
<text x="169.8" y="171.8" font-size="9.5" text-anchor="end" transform="rotate(-45 169.8 171.8)">Amplified</text>
<text x="87.4" y="228.4" font-size="10" transform="rotate(0.04 87.4 228.4)">CDK12 Status</text>
</g>
<g id="panelB">
<text x="243.6" y="10.6" font-size="13.6" font-weight="bold" transform="rotate(0.04 243.6 10.6)">B</text>
<text x="375.3" y="9.2" font-size="11.3" text-anchor="middle" font-weight="bold" transform="rotate(0.04 375.3 9.2)" textLength="18.8" lengthAdjust="spacingAndGlyphs">IHC</text>
<text x="298.6" y="24" font-size="10.1" transform="rotate(0.04 298.6 24)" textLength="45.8" lengthAdjust="spacingAndGlyphs"><tspan font-style="italic">P</tspan> = 0.0049</text>
<text x="253" y="104.5" font-size="9.6" text-anchor="middle" transform="rotate(-89.96 253 104.5)" textLength="62">Percent cases</text>
<rect x="303" y="78.2" width="63.7" height="54" fill="#a7a5b2"/>
<rect x="303" y="131.5" width="63.7" height="29.6" fill="#ea3222"/>
<rect x="395.9" y="78.2" width="64" height="21" fill="#a7a5b2"/>
<rect x="395.9" y="98.3" width="64" height="62.8" fill="#ea3222"/>
<path d="M288 36.8V161.6H474" fill="none" stroke="#111" stroke-width="2.4" stroke-linejoin="miter"/>
<line x1="283.6" y1="38" x2="288" y2="38" stroke="#111" stroke-width="2.0" stroke-linecap="butt"/>
<text x="281.5" y="40.81" font-size="9.2" text-anchor="end" transform="rotate(0.04 281.5 40.81)">150</text>
<line x1="283.6" y1="79" x2="288" y2="79" stroke="#111" stroke-width="2.0" stroke-linecap="butt"/>
<text x="281.5" y="81.81" font-size="9.2" text-anchor="end" transform="rotate(0.04 281.5 81.81)">100</text>
<line x1="283.6" y1="120.5" x2="288" y2="120.5" stroke="#111" stroke-width="2.0" stroke-linecap="butt"/>
<text x="281.5" y="123.31" font-size="9.2" text-anchor="end" transform="rotate(0.04 281.5 123.31)">50</text>
<line x1="283.6" y1="161.6" x2="288" y2="161.6" stroke="#111" stroke-width="2.0" stroke-linecap="butt"/>
<text x="281.5" y="164.41" font-size="9.2" text-anchor="end" transform="rotate(0.04 281.5 164.41)">0</text>
<line x1="335.3" y1="161.6" x2="335.3" y2="167" stroke="#111" stroke-width="2.0" stroke-linecap="butt"/>
<line x1="428.2" y1="161.6" x2="428.2" y2="167" stroke="#111" stroke-width="2.0" stroke-linecap="butt"/>
<text x="337.2" y="172" font-size="9.6" text-anchor="end" transform="rotate(-45 337.2 172)">Not amplified</text>
<text x="430.1" y="172" font-size="9.6" text-anchor="end" transform="rotate(-45 430.1 172)">Amplified</text>
<text x="320" y="228.6" font-size="10" transform="rotate(0.04 320 228.6)">CDK12 Status</text>
<rect x="439.4" y="19.6" width="14.6" height="7.8" fill="#a7a5b2"/>
<rect x="439.4" y="34.2" width="14.6" height="8" fill="#ea3222"/>
<text x="456.8" y="27" font-size="9.55" transform="rotate(0.04 456.8 27)">CDK12 Absent</text>
<text x="456.8" y="41.7" font-size="9.6" transform="rotate(0.04 456.8 41.7)">CDK12 High</text>
</g>
<g id="panelC">
<text x="1" y="270.2" font-size="13.6" font-weight="bold" transform="rotate(0.04 1 270.2)">C</text>
<text x="128.4" y="275" font-size="11.1" text-anchor="middle" font-weight="bold" transform="rotate(0.04 128.4 275)">Marcotte</text>
<text x="147.2" y="307.2" font-size="9.4" transform="rotate(0.04 147.2 307.2)"><tspan font-style="italic">P</tspan> = 0.5795</text>
<text x="9" y="347.1" font-size="9.6" text-anchor="middle" transform="rotate(-89.96 9 347.1)" textLength="64.6">Z GARP Score</text>
<line x1="80" y1="310.2" x2="80" y2="331.2" stroke="#111" stroke-width="2.4" stroke-linecap="butt"/>
<line x1="80" y1="359" x2="80" y2="391.6" stroke="#111" stroke-width="2.4" stroke-linecap="butt"/>
<line x1="64" y1="310.2" x2="95.6" y2="310.2" stroke="#111" stroke-width="2.4" stroke-linecap="butt"/>
<line x1="64" y1="391.6" x2="95.6" y2="391.6" stroke="#111" stroke-width="2.4" stroke-linecap="butt"/>
<rect x="49.7" y="331.2" width="59.7" height="27.8" fill="#9c9c9c" stroke="#111" stroke-width="2.4"/>
<line x1="49.7" y1="339.6" x2="109.4" y2="339.6" stroke="#111" stroke-width="2.4" stroke-linecap="butt"/>
<line x1="169.3" y1="325.4" x2="169.3" y2="332.8" stroke="#111" stroke-width="2.4" stroke-linecap="butt"/>
<line x1="169.3" y1="356.3" x2="169.3" y2="369" stroke="#111" stroke-width="2.4" stroke-linecap="butt"/>
<line x1="153" y1="325.4" x2="185" y2="325.4" stroke="#111" stroke-width="2.4" stroke-linecap="butt"/>
<line x1="153" y1="369" x2="185" y2="369" stroke="#111" stroke-width="2.4" stroke-linecap="butt"/>
<rect x="139.6" y="332.8" width="59.5" height="23.5" fill="#ea3222" stroke="#111" stroke-width="2.4"/>
<line x1="139.6" y1="336.1" x2="199.1" y2="336.1" stroke="#111" stroke-width="2.4" stroke-linecap="butt"/>
<path d="M34.6 287V407.8H213.9" fill="none" stroke="#111" stroke-width="2.4" stroke-linejoin="miter"/>
<line x1="30.2" y1="288.2" x2="34.6" y2="288.2" stroke="#111" stroke-width="2.0" stroke-linecap="butt"/>
<text x="27.7" y="291.01" font-size="9.2" text-anchor="end" transform="rotate(0.04 27.7 291.01)">2</text>
<line x1="30.2" y1="318.4" x2="34.6" y2="318.4" stroke="#111" stroke-width="2.0" stroke-linecap="butt"/>
<text x="27.7" y="321.21" font-size="9.2" text-anchor="end" transform="rotate(0.04 27.7 321.21)">0</text>
<line x1="30.2" y1="348.1" x2="34.6" y2="348.1" stroke="#111" stroke-width="2.0" stroke-linecap="butt"/>
<text x="27.7" y="350.91" font-size="9.2" text-anchor="end" transform="rotate(0.04 27.7 350.91)">−2</text>
<line x1="30.2" y1="378.2" x2="34.6" y2="378.2" stroke="#111" stroke-width="2.0" stroke-linecap="butt"/>
<text x="27.7" y="381.01" font-size="9.2" text-anchor="end" transform="rotate(0.04 27.7 381.01)">−4</text>
<line x1="30.2" y1="407.8" x2="34.6" y2="407.8" stroke="#111" stroke-width="2.0" stroke-linecap="butt"/>
<text x="27.7" y="410.61" font-size="9.2" text-anchor="end" transform="rotate(0.04 27.7 410.61)">−6</text>
<line x1="80" y1="407.8" x2="80" y2="413.2" stroke="#111" stroke-width="2.0" stroke-linecap="butt"/>
<line x1="169.3" y1="407.8" x2="169.3" y2="413.2" stroke="#111" stroke-width="2.0" stroke-linecap="butt"/>
<text x="81.6" y="420.2" font-size="9.5" text-anchor="end" transform="rotate(-45 81.6 420.2)">Not amplified</text>
<text x="170.6" y="420.4" font-size="9.5" text-anchor="end" transform="rotate(-45 170.6 420.4)">Amplified</text>
<text x="87.8" y="475.4" font-size="10" transform="rotate(0.04 87.8 475.4)">CDK12 Status</text>
</g>
<g id="panelD">
<text x="255.6" y="270.8" font-size="13.6" font-weight="bold" transform="rotate(0.04 255.6 270.8)">D</text>
<text x="387.4" y="274.6" font-size="11.0" text-anchor="middle" font-weight="bold" transform="rotate(0.04 387.4 274.6)" textLength="52.4" lengthAdjust="spacingAndGlyphs">Campbell</text>
<text x="462.8" y="302.8" font-size="9.4" transform="rotate(0.04 462.8 302.8)"><tspan font-style="italic">P</tspan> = 0.7145</text>
<text x="267" y="347.2" font-size="9.6" text-anchor="middle" transform="rotate(-89.96 267 347.2)" textLength="33.2">Z score</text>
<line x1="338.6" y1="302.3" x2="338.6" y2="322" stroke="#111" stroke-width="2.4" stroke-linecap="butt"/>
<line x1="338.6" y1="347" x2="338.6" y2="389" stroke="#111" stroke-width="2.4" stroke-linecap="butt"/>
<line x1="322.6" y1="302.3" x2="354.2" y2="302.3" stroke="#111" stroke-width="2.4" stroke-linecap="butt"/>
<line x1="322.6" y1="389" x2="354.2" y2="389" stroke="#111" stroke-width="2.4" stroke-linecap="butt"/>
<rect x="308.5" y="322" width="59.7" height="25" fill="#9c9c9c" stroke="#111" stroke-width="2.4"/>
<line x1="308.5" y1="330" x2="368.2" y2="330" stroke="#111" stroke-width="2.4" stroke-linecap="butt"/>
<line x1="428.2" y1="291.3" x2="428.2" y2="314.8" stroke="#111" stroke-width="2.4" stroke-linecap="butt"/>
<line x1="428.2" y1="365.1" x2="428.2" y2="372.4" stroke="#111" stroke-width="2.4" stroke-linecap="butt"/>
<line x1="412" y1="291.3" x2="444" y2="291.3" stroke="#111" stroke-width="2.4" stroke-linecap="butt"/>
<line x1="412" y1="372.4" x2="444" y2="372.4" stroke="#111" stroke-width="2.4" stroke-linecap="butt"/>
<rect x="398.3" y="314.8" width="59.5" height="50.3" fill="#ea3222" stroke="#111" stroke-width="2.4"/>
<line x1="398.3" y1="324.8" x2="457.8" y2="324.8" stroke="#111" stroke-width="2.4" stroke-linecap="butt"/>
<path d="M292.2 286.8V408.1H473" fill="none" stroke="#111" stroke-width="2.4" stroke-linejoin="miter"/>
<line x1="287.8" y1="288" x2="292.2" y2="288" stroke="#111" stroke-width="2.0" stroke-linecap="butt"/>
<text x="285.4" y="290.81" font-size="9.2" text-anchor="end" transform="rotate(0.04 285.4 290.81)">2</text>
<line x1="287.8" y1="318" x2="292.2" y2="318" stroke="#111" stroke-width="2.0" stroke-linecap="butt"/>
<text x="285.4" y="320.81" font-size="9.2" text-anchor="end" transform="rotate(0.04 285.4 320.81)">1</text>
<line x1="287.8" y1="348" x2="292.2" y2="348" stroke="#111" stroke-width="2.0" stroke-linecap="butt"/>
<text x="285.4" y="350.81" font-size="9.2" text-anchor="end" transform="rotate(0.04 285.4 350.81)">0</text>
<line x1="287.8" y1="378" x2="292.2" y2="378" stroke="#111" stroke-width="2.0" stroke-linecap="butt"/>
<text x="285.4" y="380.81" font-size="9.2" text-anchor="end" transform="rotate(0.04 285.4 380.81)">−1</text>
<line x1="287.8" y1="408.1" x2="292.2" y2="408.1" stroke="#111" stroke-width="2.0" stroke-linecap="butt"/>
<text x="285.4" y="410.91" font-size="9.2" text-anchor="end" transform="rotate(0.04 285.4 410.91)">−2</text>
<line x1="338.6" y1="408.1" x2="338.6" y2="413.5" stroke="#111" stroke-width="2.0" stroke-linecap="butt"/>
<line x1="428.2" y1="408.1" x2="428.2" y2="413.5" stroke="#111" stroke-width="2.0" stroke-linecap="butt"/>
<text x="339.6" y="420.2" font-size="9.5" text-anchor="end" transform="rotate(-45 339.6 420.2)">Not amplified</text>
<text x="429.4" y="420.4" font-size="9.5" text-anchor="end" transform="rotate(-45 429.4 420.4)">Amplified</text>
<text x="346.7" y="475.6" font-size="10.2" transform="rotate(0.04 346.7 475.6)">CDK12 Status</text>
</g>
</svg>
</body></html>
